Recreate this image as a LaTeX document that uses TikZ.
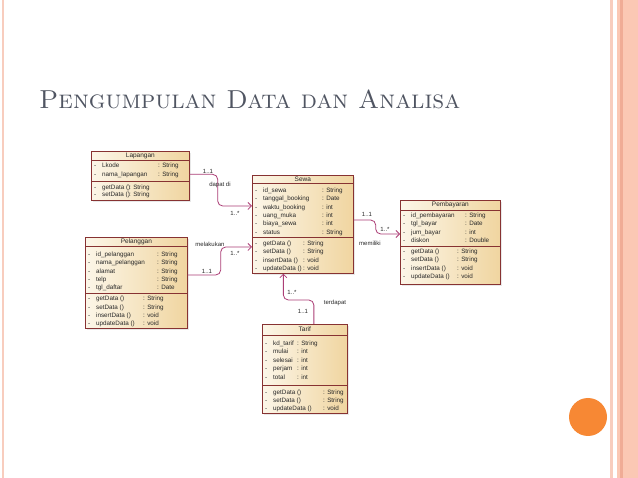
\documentclass[tikz,border=0pt]{standalone}
\usepackage{fontspec}
\newfontfamily\umlfont{Liberation Sans}
\usetikzlibrary{arrows.meta,calc,shadows,positioning}

\definecolor{clsborder}{RGB}{135,50,50}
\definecolor{clsleft}{RGB}{252,246,232}
\definecolor{clsright}{RGB}{240,213,160}
\definecolor{rowtext}{RGB}{40,40,40}
\definecolor{assocline}{RGB}{172,62,118}
\definecolor{titlegray}{RGB}{80,85,98}
\definecolor{framepink}{RGB}{248,205,190}
\definecolor{bandpink}{RGB}{251,200,180}
\definecolor{banddark}{RGB}{240,172,150}
\definecolor{dotorange}{RGB}{247,136,52}

\tikzset{
  cls/.style={draw=clsborder, line width=0.7pt, left color=clsleft, right color=clsright,
    inner sep=0pt, anchor=north west,
    drop shadow={shadow xshift=1.5pt, shadow yshift=-1.5pt, opacity=0.18}},
  clsline/.style={draw=clsborder, line width=0.7pt},
  clstitle/.style={font=\umlfont\fontsize{6.5}{7}\selectfont, text=rowtext, inner sep=0pt},
  row/.style={font=\umlfont\fontsize{6.3}{7}\selectfont, text=rowtext, inner sep=0pt, anchor=base west},
  assoc/.style={draw=assocline, line width=0.8pt, rounded corners=5pt,
    -{Straight Barb[length=3.5pt,width=7pt]}},
  mult/.style={font=\umlfont\fontsize{6}{7}\selectfont, text=rowtext, inner sep=0pt},
}

\begin{document}
\begin{tikzpicture}[x=1pt,y=-1pt]
  \useasboundingbox (0,0) rectangle (638,478);
  \fill[white] (0,0) rectangle (638,478);

  % slide frame
  \fill[framepink] (1.5,0) rectangle (3.5,478);
  \fill[framepink] (610,0) rectangle (612.5,478);
  \fill[bandpink] (616.5,0) rectangle (638,478);
  \fill[banddark] (620,0) rectangle (623,478);
  \fill[dotorange] (588,417) circle (19pt);

  \node[anchor=base west, font=\fontsize{26}{28}\selectfont, text=titlegray, inner sep=0pt]
    (title) at (39,109) {\textsc{Pengumpulan Data dan Analisa}};

  % Lapangan
  \node[cls, minimum width=98pt, minimum height=49pt] (lapangan) at (91,151) {};
  \node[clstitle] (lapangan-title) at ([yshift=-4.5pt]lapangan.north) {Lapangan};
  \draw[clsline] ([yshift=-9pt]lapangan.north west) -- ([yshift=-9pt]lapangan.north east);
  \draw[clsline] ([yshift=-30.5pt]lapangan.north west) -- ([yshift=-30.5pt]lapangan.north east);
  \foreach \nm/\tp [count=\i from 0] in {Lkode/String, nama\_lapangan/String} {
    \node[row] (lapangan-a\i) at ($(lapangan.north west)+(3,16.8+8.6*\i)$) {\makebox[8pt][l]{-}\nm};
    \node[row] (lapangan-at\i) at ($(lapangan.north west)+(67,16.8+8.6*\i)$) {: \tp};
  }
  \foreach \nm/\tp [count=\i from 0] in {{getData ()}/String, {setData ()}/String} {
    \node[row] (lapangan-m\i) at ($(lapangan.north west)+(3,38.5+7.5*\i)$) {\makebox[8pt][l]{-}\nm};
    \node[row] (lapangan-mt\i) at ($(lapangan.north west)+(38,38.5+7.5*\i)$) {: \tp};
  }

  % Pelanggan
  \node[cls, minimum width=102pt, minimum height=91pt] (pelanggan) at (85,237) {};
  \node[clstitle] (pelanggan-title) at ([yshift=-4.8pt]pelanggan.north) {Pelanggan};
  \draw[clsline] ([yshift=-9.5pt]pelanggan.north west) -- ([yshift=-9.5pt]pelanggan.north east);
  \draw[clsline] ([yshift=-56pt]pelanggan.north west) -- ([yshift=-56pt]pelanggan.north east);
  \foreach \nm/\tp [count=\i from 0] in {id\_pelanggan/String, nama\_pelanggan/String,
      alamat/String, telp/String, tgl\_daftar/Date} {
    \node[row] (pelanggan-a\i) at ($(pelanggan.north west)+(3,19.6+8.3*\i)$) {\makebox[8pt][l]{-}\nm};
    \node[row] (pelanggan-at\i) at ($(pelanggan.north west)+(72,19.6+8.3*\i)$) {: \tp};
  }
  \foreach \nm/\tp [count=\i from 0] in {{getData ()}/String, {setData ()}/String,
      {insertData ()}/void, {updateData ()}/void} {
    \node[row] (pelanggan-m\i) at ($(pelanggan.north west)+(3,63.8+8.3*\i)$) {\makebox[8pt][l]{-}\nm};
    \node[row] (pelanggan-mt\i) at ($(pelanggan.north west)+(58,63.8+8.3*\i)$) {: \tp};
  }

  % Sewa
  \node[cls, minimum width=101pt, minimum height=98pt] (sewa) at (252,175) {};
  \node[clstitle] (sewa-title) at ([yshift=-4.2pt]sewa.north) {Sewa};
  \draw[clsline] ([yshift=-8.3pt]sewa.north west) -- ([yshift=-8.3pt]sewa.north east);
  \draw[clsline] ([yshift=-62.7pt]sewa.north west) -- ([yshift=-62.7pt]sewa.north east);
  \foreach \nm/\tp [count=\i from 0] in {id\_sewa/String, tanggal\_booking/Date,
      waktu\_booking/int, uang\_muka/int, biaya\_sewa/int, status/String} {
    \node[row] (sewa-a\i) at ($(sewa.north west)+(3,17.3+8.4*\i)$) {\makebox[8pt][l]{-}\nm};
    \node[row] (sewa-at\i) at ($(sewa.north west)+(70,17.3+8.4*\i)$) {: \tp};
  }
  \foreach \nm/\tp [count=\i from 0] in {{getData ()}/String, {setData ()}/String,
      {insertData ()}/void, {updateData ()}/void} {
    \node[row] (sewa-m\i) at ($(sewa.north west)+(3,70.3+8.4*\i)$) {\makebox[8pt][l]{-}\nm};
    \node[row] (sewa-mt\i) at ($(sewa.north west)+(51,70.3+8.4*\i)$) {: \tp};
  }

  % Pembayaran
  \node[cls, minimum width=100pt, minimum height=84pt] (pembayaran) at (400,200) {};
  \node[clstitle] (pembayaran-title) at ([yshift=-5pt]pembayaran.north) {Pembayaran};
  \draw[clsline] ([yshift=-10pt]pembayaran.north west) -- ([yshift=-10pt]pembayaran.north east);
  \draw[clsline] ([yshift=-46pt]pembayaran.north west) -- ([yshift=-46pt]pembayaran.north east);
  \foreach \nm/\tp [count=\i from 0] in {id\_pembayaran/String, tgl\_bayar/Date,
      jum\_bayar/int, diskon/Double} {
    \node[row] (pembayaran-a\i) at ($(pembayaran.north west)+(3,17.3+8.4*\i)$) {\makebox[8pt][l]{-}\nm};
    \node[row] (pembayaran-at\i) at ($(pembayaran.north west)+(65,17.3+8.4*\i)$) {: \tp};
  }
  \foreach \nm/\tp [count=\i from 0] in {{getData ()}/String, {setData ()}/String,
      {insertData ()}/void, {updateData ()}/void} {
    \node[row] (pembayaran-m\i) at ($(pembayaran.north west)+(3,53.3+8.4*\i)$) {\makebox[8pt][l]{-}\nm};
    \node[row] (pembayaran-mt\i) at ($(pembayaran.north west)+(57,53.3+8.4*\i)$) {: \tp};
  }

  % Tarif
  \node[cls, minimum width=85pt, minimum height=89pt] (tarif) at (262,324) {};
  \node[clstitle] (tarif-title) at ([yshift=-5.5pt]tarif.north) {Tarif};
  \draw[clsline] ([yshift=-11pt]tarif.north west) -- ([yshift=-11pt]tarif.north east);
  \draw[clsline] ([yshift=-61pt]tarif.north west) -- ([yshift=-61pt]tarif.north east);
  \foreach \nm/\tp [count=\i from 0] in {kd\_tarif/String, mulai/int, selesai/int,
      perjam/int, total/int} {
    \node[row] (tarif-a\i) at ($(tarif.north west)+(3,21.4+8.5*\i)$) {\makebox[8pt][l]{-}\nm};
    \node[row] (tarif-at\i) at ($(tarif.north west)+(35,21.4+8.5*\i)$) {: \tp};
  }
  \foreach \nm/\tp [count=\i from 0] in {{getData ()}/String, {setData ()}/String,
      {updateData ()}/void} {
    \node[row] (tarif-m\i) at ($(tarif.north west)+(3,70.3+8.2*\i)$) {\makebox[8pt][l]{-}\nm};
    \node[row] (tarif-mt\i) at ($(tarif.north west)+(61,70.3+8.2*\i)$) {: \tp};
  }

  % associations
  \draw[assoc] ([yshift=1.5pt]lapangan.east) -- ++(28,0) |- ([yshift=-31pt]sewa.north west);
  \draw[assoc] ([yshift=-38pt]pelanggan.north east) -- ++(33,0) |- ([yshift=-72pt]sewa.north west);
  \draw[assoc] ([yshift=-45pt]sewa.north east) -- ++(22,0) |- ([yshift=-34pt]pembayaran.north west);
  \draw[assoc] ([xshift=9pt]tarif.north) -- ++(0,-24) -| ([xshift=-19.5pt]sewa.south);

  % multiplicities
  \node[mult] (dapat-a) at (208,171) {1..1};
  \node[mult] (dapat) at (220,185) {dapat di};
  \node[mult] (dapat-b) at (235,213) {1..*};
  \node[mult] (melakukan) at (210,244) {melakukan};
  \node[mult] (melakukan-b) at (235,253) {1..*};
  \node[mult] (melakukan-a) at (207,271) {1..1};
  \node[mult] (memiliki-a) at (367,214) {1..1};
  \node[mult] (memiliki-b) at (385,229) {1..*};
  \node[mult] (memiliki) at (370,243) {memiliki};
  \node[mult] (terdapat-b) at (292,292) {1..*};
  \node[mult] (terdapat) at (335,303) {terdapat};
  \node[mult] (terdapat-a) at (303,311) {1..1};
\end{tikzpicture}
\end{document}
